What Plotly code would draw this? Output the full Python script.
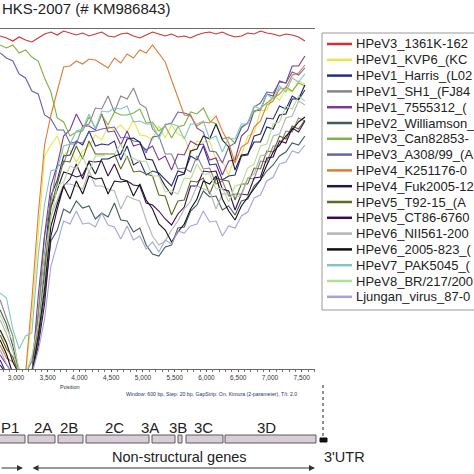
import plotly.graph_objects as go

W = H = 474

# ---------------- data ----------------
positions = [2750, 2850, 2950, 3050, 3150, 3250, 3350, 3450, 3550, 3650,
             3750, 3850, 3950, 4050, 4150, 4250, 4350, 4450, 4550, 4650,
             4750, 4850, 4950, 5050, 5150, 5250, 5350, 5450, 5550, 5650,
             5750, 5850, 5950, 6050, 6150, 6250, 6350, 6450, 6550, 6650,
             6750, 6850, 6950, 7050, 7150, 7250, 7350, 7450, 7550]

hpev3_1361k = [98.6, 98.2, 97.6, 98.4, 97.8, 97.4, 98.2, 99.0, 99.4, 98.8, 99.6, 99.2, 98.8, 99.2, 98.6, 99.0, 99.4, 98.6, 98.4, 99.0,
               99.2, 98.6, 98.2, 98.8, 99.4, 99.0, 98.6, 99.0, 98.4, 98.6, 98.2, 98.8, 99.2, 99.4, 99.0, 99.4, 98.8, 98.4, 98.6, 99.2,
               99.0, 99.6, 99.2, 99.0, 98.6, 99.0, 98.8, 98.4, 97.6]
hpev1_kvp6 = [39.8, 36.2, 34.4, 31.0, 31.0, 42.6, 58.8, 74.6, 76.8, 78.6, 74.8, 75.8, 73.4, 75.6, 76.6, 78.8, 77.8, 80.6, 79.8, 80.8,
              79.4, 81.8, 78.8, 78.6, 77.8, 80.6, 78.2, 80.8, 79.0, 78.4, 75.0, 77.6, 77.4, 77.6, 73.8, 73.6, 70.8, 74.6, 74.8, 78.6,
              79.2, 83.6, 83.8, 86.6, 85.8, 88.0, 87.4, 89.6, 89.0]
hpev1_harris = [33.8, 31.0, 31.0, 31.0, 31.0, 31.0, 42.6, 54.8, 66.6, 69.8, 74.6, 74.8, 77.6, 76.8, 79.6, 76.6, 77.0, 76.8, 77.6, 73.8,
                76.6, 72.8, 73.6, 70.8, 71.6, 71.2, 69.8, 68.6, 71.6, 71.2, 74.6, 73.8, 76.6, 72.8, 73.0, 69.8, 70.6, 70.8, 74.6, 74.8,
                78.6, 79.0, 82.2, 82.0, 84.6, 84.0, 86.6, 85.8, 87.8]
hpev1_sh1 = [45.8, 42.0, 38.6, 31.0, 31.0, 33.6, 43.0, 58.6, 66.0, 72.6, 73.0, 77.0, 77.0, 80.6, 81.0, 84.2, 84.0, 86.6, 83.4, 86.6,
             86.0, 88.2, 85.0, 84.2, 80.0, 78.6, 75.0, 75.0, 72.0, 72.2, 71.4, 74.6, 72.0, 72.2, 69.0, 69.6, 66.6, 67.0, 67.0, 70.2,
             70.0, 73.6, 73.4, 76.6, 76.6, 79.6, 79.4, 82.2, 81.6]
hpev1_7555312 = [34.8, 33.0, 31.0, 31.0, 31.0, 31.0, 46.6, 58.8, 68.6, 72.8, 78.6, 79.8, 83.0, 80.6, 80.6, 79.8, 83.0, 79.4, 79.6, 76.8,
                 79.6, 76.6, 77.0, 75.8, 76.6, 73.8, 74.6, 71.8, 75.0, 74.8, 77.6, 76.8, 77.0, 73.8, 74.2, 70.8, 73.6, 73.8, 78.6, 79.8,
                 83.6, 83.8, 87.0, 86.6, 89.6, 89.2, 92.6, 92.6, 94.6]
hpev2_williamson = [43.8, 41.0, 36.6, 31.0, 31.0, 31.0, 37.6, 46.8, 57.6, 59.8, 64.0, 63.2, 65.6, 64.2, 64.6, 62.0, 63.2, 62.4, 65.2, 61.8,
                    61.6, 59.4, 60.2, 56.8, 55.0, 54.6, 56.4, 56.8, 60.2, 60.4, 63.6, 64.8, 67.6, 66.4, 66.6, 63.8, 64.6, 62.8, 65.6, 66.0,
                    68.6, 69.8, 71.6, 72.8, 74.6, 75.4, 77.2, 76.8, 78.6]
hpev3_can82853 = [96.8, 96.2, 96.8, 95.2, 95.8, 94.4, 93.6, 90.2, 87.4, 82.2, 81.4, 78.6, 79.4, 79.6, 82.4, 80.2, 82.8, 80.8, 83.4, 82.8,
                  82.8, 83.2, 84.0, 81.2, 81.4, 79.6, 80.6, 78.2, 80.4, 80.8, 83.4, 83.0, 84.2, 81.6, 81.0, 78.0, 78.4, 77.2, 80.2, 81.2,
                  83.4, 84.2, 85.2, 86.2, 87.0, 88.4, 87.6, 89.2, 88.6]
hpev3_a308 = [95.2, 94.2, 93.6, 91.0, 90.2, 87.6, 87.0, 82.8, 82.0, 79.8, 79.8, 77.2, 77.4, 77.2, 79.4, 79.6, 80.0, 80.2, 80.4, 78.2,
              78.4, 77.6, 77.4, 75.2, 78.4, 78.6, 80.8, 81.2, 83.4, 83.2, 82.8, 80.2, 79.4, 75.6, 75.4, 73.2, 76.4, 77.2, 80.4, 81.2,
              84.4, 85.2, 87.4, 87.2, 89.4, 89.2, 91.4, 90.8, 92.2]
hpev4_k251176 = [36.8, 34.2, 33.4, 31.0, 31.0, 45.8, 62.8, 76.8, 82.8, 87.8, 92.4, 92.6, 93.6, 93.0, 94.0, 93.8, 93.0, 92.2, 94.2, 93.2,
                 95.0, 94.2, 95.8, 95.2, 96.8, 95.2, 93.4, 89.8, 86.2, 82.8, 82.6, 80.6, 81.4, 81.2, 82.6, 79.6, 77.2, 73.2, 76.4, 77.2,
                 80.4, 81.6, 84.8, 85.6, 88.0, 88.2, 90.8, 91.2, 92.8]
hpev4_fuk2005 = [39.8, 37.2, 33.4, 31.0, 31.0, 31.0, 40.4, 51.0, 64.4, 68.0, 71.4, 71.0, 70.4, 70.8, 73.4, 71.0, 74.0, 74.0, 74.6, 75.0,
                 78.0, 78.2, 77.4, 74.0, 73.8, 70.8, 68.6, 66.8, 70.6, 71.0, 75.6, 76.0, 78.6, 78.0, 81.0, 77.8, 76.4, 71.8, 74.8, 75.0,
                 77.4, 77.4, 80.4, 80.0, 82.8, 83.0, 86.0, 86.0, 88.8]
hpev5_t92 = [38.8, 36.0, 34.4, 31.0, 31.0, 31.0, 41.6, 53.0, 64.6, 69.0, 73.6, 73.4, 76.6, 74.0, 77.6, 75.0, 75.0, 75.0, 75.0, 72.0,
             74.6, 71.4, 71.6, 71.0, 70.6, 66.8, 66.6, 62.8, 65.6, 65.8, 69.6, 69.4, 70.2, 67.0, 70.2, 69.8, 69.6, 65.8, 69.0, 69.0,
             72.2, 72.0, 75.6, 75.4, 78.6, 78.0, 80.6, 80.0, 81.8]
hpev5_ct86 = [32.8, 31.0, 31.0, 31.0, 31.0, 31.0, 36.6, 45.0, 58.6, 64.0, 68.6, 70.0, 73.0, 70.0, 73.6, 73.4, 73.6, 70.6, 73.0, 70.0,
              69.6, 68.8, 68.6, 65.2, 64.8, 63.6, 62.0, 60.8, 63.0, 64.4, 68.6, 68.6, 71.6, 71.4, 71.6, 68.0, 67.6, 63.8, 67.0, 66.8,
              70.2, 70.4, 74.2, 74.4, 77.6, 77.2, 80.2, 79.4, 81.6]
hpev6_nii561 = [41.8, 39.0, 35.6, 31.0, 31.0, 31.0, 39.6, 50.0, 62.6, 66.0, 69.0, 69.0, 68.6, 68.0, 71.6, 68.6, 68.6, 68.0, 67.6, 64.0,
                66.6, 66.0, 65.6, 61.8, 58.6, 56.8, 57.6, 59.8, 61.6, 64.0, 65.6, 68.6, 68.0, 67.6, 64.0, 67.0, 67.0, 66.6, 66.6, 70.2,
                71.0, 74.6, 75.0, 78.6, 79.0, 82.2, 82.6, 85.6, 84.8]
hpev6_2005_823 = [37.8, 35.0, 31.0, 31.0, 31.0, 31.0, 38.6, 48.0, 60.6, 65.0, 68.6, 66.0, 69.6, 67.0, 70.6, 70.0, 70.2, 67.0, 69.6, 69.4,
                  69.6, 66.6, 69.0, 65.8, 64.0, 61.0, 59.8, 57.4, 59.4, 61.0, 64.0, 66.0, 69.6, 69.0, 70.6, 66.0, 63.6, 61.8, 64.6, 66.4,
                  68.0, 69.8, 72.8, 75.4, 76.8, 78.6, 79.8, 81.4, 82.4]
hpev7_pak5045 = [47.2, 46.2, 40.0, 36.0, 38.6, 39.2, 54.6, 65.0, 71.6, 72.0, 76.6, 77.0, 79.6, 80.0, 83.0, 80.0, 83.6, 83.4, 84.2, 84.0,
                 84.6, 81.4, 81.6, 81.0, 81.0, 78.0, 81.0, 81.0, 80.6, 78.0, 81.0, 81.0, 81.6, 78.0, 78.6, 75.4, 78.2, 78.0, 81.0, 81.0,
                 84.6, 84.0, 87.0, 86.0, 88.6, 87.4, 90.2, 89.4, 91.0]
hpev8_br217 = [42.8, 40.0, 37.6, 32.0, 31.0, 34.6, 41.0, 54.6, 62.0, 68.6, 69.4, 72.6, 72.0, 74.6, 71.4, 74.6, 74.6, 75.0, 75.0, 77.0,
               74.0, 74.2, 73.4, 73.6, 70.6, 70.6, 67.4, 67.6, 67.0, 70.2, 70.0, 73.0, 71.0, 71.0, 68.0, 68.2, 65.4, 68.6, 69.0, 72.2,
               73.0, 76.6, 77.0, 81.0, 81.4, 84.6, 84.0, 86.6, 85.6]
ljungan_87 = [35.8, 33.0, 31.0, 31.0, 31.0, 31.0, 35.6, 42.0, 52.6, 57.0, 61.6, 61.0, 63.6, 61.0, 61.2, 60.4, 63.2, 60.8, 60.4, 58.0,
              60.6, 57.8, 58.6, 56.0, 57.4, 55.4, 57.8, 57.0, 59.6, 59.2, 60.6, 61.0, 63.6, 61.4, 61.6, 58.6, 60.6, 60.2, 62.6, 63.4,
              66.2, 66.8, 69.6, 70.4, 73.0, 73.4, 75.6, 75.2, 76.8]

# legend labels as visible in the (cropped) reference
series_names = ["HPeV3_1361K-162", "HPeV1_KVP6_(KC", "HPeV1_Harris_(L02",
                "HPeV1_SH1_(FJ84", "HPeV1_7555312_(", "HPeV2_Williamson_",
                "HPeV3_Can82853-", "HPeV3_A308/99_(A", "HPeV4_K251176-0",
                "HPeV4_Fuk2005-12", "HPeV5_T92-15_(A", "HPeV5_CT86-6760",
                "HPeV6_NII561-200", "HPeV6_2005-823_(", "HPeV7_PAK5045_(",
                "HPeV8_BR/217/200", "Ljungan_virus_87-0"]
series_values = [hpev3_1361k, hpev1_kvp6, hpev1_harris, hpev1_sh1, hpev1_7555312, hpev2_williamson,
                 hpev3_can82853, hpev3_a308, hpev4_k251176, hpev4_fuk2005, hpev5_t92, hpev5_ct86,
                 hpev6_nii561, hpev6_2005_823, hpev7_pak5045, hpev8_br217, ljungan_87]
series_colors = ["#cc3333", "#e6e64a", "#2b2b85", "#858585", "#7b3a8c", "#3f5e58",
                 "#7fb23e", "#6464b0", "#e07b35", "#1c1c3c", "#5c6b22", "#3d0c4d",
                 "#b4b4b4", "#111111", "#84c4c4", "#b6dc94", "#a4a4dc"]

genes = ["P1", "2A", "2B", "2C", "3A", "3B", "3C", "3D"]
gene_box_px = [(-10, 25), (28, 55), (58, 83), (86, 149), (152, 175), (178, 182), (186, 223), (225, 316)]
gene_label_px = [10, 43, 69, 114, 150, 178, 203, 266]

title_text = "HKS-2007 (# KM986843)"
window_text = "Window: 600 bp, Step: 20 bp, GapStrip: On, Kimura (2-parameter), T/t: 2.0"

for v in series_values:
    if len(v) != len(positions):
        raise ValueError("length mismatch")


def xp(px):
    return px / W


def yp(py):
    return 1 - py / H


fig = go.Figure()
order = list(range(1, len(series_values))) + [0]
for i in order:
    fig.add_trace(go.Scatter(x=positions, y=series_values[i], mode="lines", name=series_names[i],
                             line=dict(color=series_colors[i], width=1.1), showlegend=False,
                             hoverinfo="skip"))

fig.update_layout(
    width=W, height=H, margin=dict(l=0, r=0, t=0, b=0),
    paper_bgcolor="white", plot_bgcolor="white",
    font=dict(family="Liberation Sans, Arial, sans-serif", color="#222"),
    xaxis=dict(domain=[0, xp(315)], range=[2748, 7709], showgrid=False, zeroline=False,
               showline=True, linecolor="#6a6a6a", linewidth=1, mirror=True,
               ticks="outside", ticklen=2, tickcolor="#555", tick0=3000, dtick=500,
               tickformat=",d", tickfont=dict(size=6.5, color="#333"),
               minor=dict(dtick=100, ticks="outside", ticklen=2, tickcolor="#777")),
    yaxis=dict(domain=[yp(369), yp(29)], range=[32, 100], visible=False, showgrid=False, zeroline=False),
)

shapes = []
annots = []

# title
annots.append(dict(x=0, y=yp(9), xref="paper", yref="paper", text=title_text, showarrow=False,
                   xanchor="left", yanchor="middle", font=dict(size=15, color="#222")))
annots.append(dict(x=xp(70), y=yp(387), xref="paper", yref="paper", text="Position", showarrow=False,
                   xanchor="center", yanchor="middle", font=dict(size=5.5, color="#333")))
annots.append(dict(x=xp(124), y=yp(394), xref="paper", yref="paper", text=window_text, showarrow=False,
                   xanchor="left", yanchor="middle", font=dict(size=5.2, color="#24307a")))

# legend box + entries
shapes.append(dict(type="rect", xref="paper", yref="paper", x0=xp(322), x1=xp(490), y0=yp(310), y1=yp(33),
                   line=dict(color="#9a9a9a", width=1), fillcolor="white", layer="below"))
for i, name in enumerate(series_names):
    cy = 44 + i * 15.8
    shapes.append(dict(type="line", xref="paper", yref="paper", x0=xp(327), x1=xp(352), y0=yp(cy), y1=yp(cy),
                       line=dict(color=series_colors[i], width=2.5)))
    annots.append(dict(x=xp(354), y=yp(cy), xref="paper", yref="paper", text=name, showarrow=False,
                       xanchor="left", yanchor="middle", font=dict(size=13, color="#222")))

# genome map
for g, (a, b), lx in zip(genes, gene_box_px, gene_label_px):
    shapes.append(dict(type="rect", xref="paper", yref="paper", x0=xp(a), x1=xp(b), y0=yp(443), y1=yp(435),
                       line=dict(color="#5a5a5a", width=1), fillcolor="#d9cdd8"))
    annots.append(dict(x=xp(lx), y=yp(427), xref="paper", yref="paper", text=g, showarrow=False,
                       xanchor="center", yanchor="middle", font=dict(size=15, color="#222")))
shapes.append(dict(type="rect", xref="paper", yref="paper", x0=xp(320), x1=xp(327), y0=yp(442), y1=yp(438),
                   line=dict(color="#111", width=1), fillcolor="#111"))
shapes.append(dict(type="line", xref="paper", yref="paper", x0=xp(323), x1=xp(323), y0=yp(385), y1=yp(436),
                   line=dict(color="#222", width=1, dash="dot")))

annots.append(dict(x=xp(179), y=yp(457), xref="paper", yref="paper", text="Non-structural genes", showarrow=False,
                   xanchor="center", yanchor="middle", font=dict(size=14.5, color="#222")))
annots.append(dict(x=xp(322), y=yp(457), xref="paper", yref="paper", text="3'UTR", showarrow=False,
                   xanchor="left", yanchor="middle", font=dict(size=14.5, color="#222")))
annots.append(dict(x=xp(315), y=yp(468), xref="paper", yref="paper", text="", showarrow=True,
                   axref="pixel", ayref="pixel", ax=-284, ay=0, arrowhead=2, arrowside="end+start",
                   arrowsize=1.2, arrowwidth=1, arrowcolor="#333"))
annots.append(dict(x=xp(23), y=yp(468), xref="paper", yref="paper", text="", showarrow=True,
                   axref="pixel", ayref="pixel", ax=-40, ay=0, arrowhead=2, arrowside="end",
                   arrowsize=1.2, arrowwidth=1, arrowcolor="#333"))

fig.update_layout(shapes=shapes, annotations=annots)
fig.write_html("out.html")
